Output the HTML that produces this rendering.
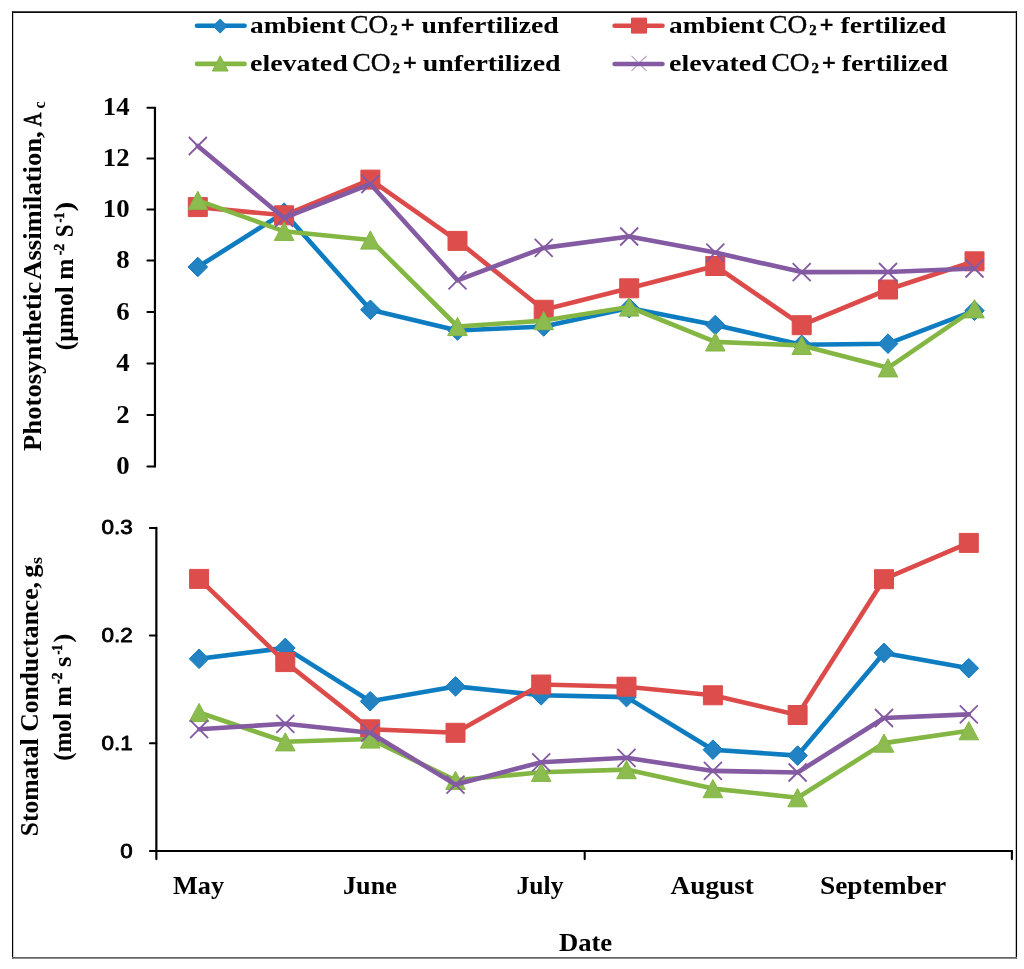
<!DOCTYPE html>
<html lang="en"><head><meta charset="utf-8"><title>Photosynthetic assimilation and stomatal conductance</title>
<style>html,body{margin:0;padding:0;background:#fff}svg{display:block}text{fill:#000}</style></head><body>
<svg role="img" aria-label="Line charts of photosynthetic assimilation and stomatal conductance by date" width="1024" height="969" viewBox="0 0 1024 969">
<rect x="0" y="0" width="1024" height="969" fill="#fff"/>
<defs><filter id="soft" x="0" y="0" width="1024" height="969" filterUnits="userSpaceOnUse"><feGaussianBlur stdDeviation="0.45"/></filter></defs>
<g filter="url(#soft)">
<line x1="12.6" y1="11.3" x2="12.6" y2="958.4" stroke="#000" stroke-width="1.2"/>
<line x1="1016.4" y1="11.3" x2="1016.4" y2="958.4" stroke="#000" stroke-width="1.3"/>
<line x1="12" y1="12.05" x2="1017" y2="12.05" stroke="#111" stroke-width="1.7"/>
<line x1="12" y1="957.8" x2="1017" y2="957.8" stroke="#666" stroke-width="1.7"/>
<line x1="197" y1="25.7" x2="244.6" y2="25.7" stroke="#0a7cc0" stroke-width="4.6" stroke-linecap="round"/>
<path d="M220.2 19.1L227.2 26.1L220.2 33.1L213.2 26.1Z" fill="#2482c2" stroke="#0a7cc0" stroke-width="1" stroke-linejoin="round"/>
<line x1="197" y1="63.9" x2="244.6" y2="63.9" stroke="#83b642" stroke-width="4.6" stroke-linecap="round"/>
<path d="M220.2 55.8L228.1 71.0L212.3 71.0Z" fill="#8cbc50" stroke="#83b642" stroke-width="1" stroke-linejoin="round"/>
<line x1="614.6" y1="25.75" x2="662.5" y2="25.75" stroke="#dc4c4a" stroke-width="4.6" stroke-linecap="round"/>
<rect x="631.5" y="18.1" width="15.0" height="15.0" fill="#dd4e4c" stroke="#dc4c4a" stroke-width="1" stroke-linejoin="round"/>
<line x1="614.6" y1="64.0" x2="662.5" y2="64.0" stroke="#845aa2" stroke-width="4.6" stroke-linecap="round"/>
<path d="M631.5 55.8L646.5 70.8M631.5 70.8L646.5 55.8" fill="none" stroke="#845aa2" stroke-width="1.1" stroke-opacity="0.6"/>
<text x="250.0" y="32.5" font-family="'Liberation Serif', 'DejaVu Serif', serif" font-size="24.0" font-weight="bold" text-anchor="start" textLength="95.6" lengthAdjust="spacingAndGlyphs">ambient</text>
<text x="350.2" y="32.5" font-family="'Liberation Serif', 'DejaVu Serif', serif" font-size="24.5" font-weight="normal" text-anchor="start" textLength="38.0" lengthAdjust="spacingAndGlyphs" stroke="#000" stroke-width="0.35">CO</text>
<text x="390.2" y="34.7" font-family="'Liberation Serif', 'DejaVu Serif', serif" font-size="14.5" font-weight="bold" text-anchor="start" textLength="7.4" lengthAdjust="spacingAndGlyphs" stroke="#000" stroke-width="0.4">2</text>
<text x="407.5" y="31.8" font-family="'Liberation Serif', 'DejaVu Serif', serif" font-size="24" font-weight="bold" text-anchor="middle" stroke="#000" stroke-width="0.6">+</text>
<text x="421.5" y="32.5" font-family="'Liberation Serif', 'DejaVu Serif', serif" font-size="24.0" font-weight="bold" text-anchor="start" textLength="137.3" lengthAdjust="spacingAndGlyphs">unfertilized</text>
<text x="250.0" y="70.9" font-family="'Liberation Serif', 'DejaVu Serif', serif" font-size="24.0" font-weight="bold" text-anchor="start" textLength="97.7" lengthAdjust="spacingAndGlyphs">elevated</text>
<text x="352.5" y="70.9" font-family="'Liberation Serif', 'DejaVu Serif', serif" font-size="24.5" font-weight="normal" text-anchor="start" textLength="38.0" lengthAdjust="spacingAndGlyphs" stroke="#000" stroke-width="0.35">CO</text>
<text x="392.5" y="73.10000000000001" font-family="'Liberation Serif', 'DejaVu Serif', serif" font-size="14.5" font-weight="bold" text-anchor="start" textLength="7.4" lengthAdjust="spacingAndGlyphs" stroke="#000" stroke-width="0.4">2</text>
<text x="409.8" y="70.2" font-family="'Liberation Serif', 'DejaVu Serif', serif" font-size="24" font-weight="bold" text-anchor="middle" stroke="#000" stroke-width="0.6">+</text>
<text x="422.8" y="70.9" font-family="'Liberation Serif', 'DejaVu Serif', serif" font-size="24.0" font-weight="bold" text-anchor="start" textLength="137.8" lengthAdjust="spacingAndGlyphs">unfertilized</text>
<text x="669.0" y="32.5" font-family="'Liberation Serif', 'DejaVu Serif', serif" font-size="24.0" font-weight="bold" text-anchor="start" textLength="95.6" lengthAdjust="spacingAndGlyphs">ambient</text>
<text x="769.2" y="32.5" font-family="'Liberation Serif', 'DejaVu Serif', serif" font-size="24.5" font-weight="normal" text-anchor="start" textLength="38.0" lengthAdjust="spacingAndGlyphs" stroke="#000" stroke-width="0.35">CO</text>
<text x="809.2" y="34.7" font-family="'Liberation Serif', 'DejaVu Serif', serif" font-size="14.5" font-weight="bold" text-anchor="start" textLength="7.4" lengthAdjust="spacingAndGlyphs" stroke="#000" stroke-width="0.4">2</text>
<text x="826.5" y="31.8" font-family="'Liberation Serif', 'DejaVu Serif', serif" font-size="24" font-weight="bold" text-anchor="middle" stroke="#000" stroke-width="0.6">+</text>
<text x="840.5" y="32.5" font-family="'Liberation Serif', 'DejaVu Serif', serif" font-size="24.0" font-weight="bold" text-anchor="start" textLength="105.7" lengthAdjust="spacingAndGlyphs">fertilized</text>
<text x="669.0" y="70.9" font-family="'Liberation Serif', 'DejaVu Serif', serif" font-size="24.0" font-weight="bold" text-anchor="start" textLength="97.7" lengthAdjust="spacingAndGlyphs">elevated</text>
<text x="771.5" y="70.9" font-family="'Liberation Serif', 'DejaVu Serif', serif" font-size="24.5" font-weight="normal" text-anchor="start" textLength="38.0" lengthAdjust="spacingAndGlyphs" stroke="#000" stroke-width="0.35">CO</text>
<text x="811.5" y="73.10000000000001" font-family="'Liberation Serif', 'DejaVu Serif', serif" font-size="14.5" font-weight="bold" text-anchor="start" textLength="7.4" lengthAdjust="spacingAndGlyphs" stroke="#000" stroke-width="0.4">2</text>
<text x="828.8" y="70.2" font-family="'Liberation Serif', 'DejaVu Serif', serif" font-size="24" font-weight="bold" text-anchor="middle" stroke="#000" stroke-width="0.6">+</text>
<text x="841.8" y="70.9" font-family="'Liberation Serif', 'DejaVu Serif', serif" font-size="24.0" font-weight="bold" text-anchor="start" textLength="106.2" lengthAdjust="spacingAndGlyphs">fertilized</text>
<line x1="154.95" y1="107.75" x2="154.95" y2="466.5" stroke="#000" stroke-width="2.2" stroke-linecap="round"/>
<line x1="147.4" y1="466.5" x2="154.95" y2="466.5" stroke="#000" stroke-width="2.0" stroke-linecap="round"/>
<text x="129.6" y="474.0" font-family="'Liberation Serif', 'DejaVu Serif', serif" font-size="25" font-weight="bold" text-anchor="end" textLength="13.4" lengthAdjust="spacingAndGlyphs">0</text>
<line x1="147.4" y1="415.0" x2="154.95" y2="415.0" stroke="#000" stroke-width="2.0" stroke-linecap="round"/>
<text x="129.6" y="422.5" font-family="'Liberation Serif', 'DejaVu Serif', serif" font-size="25" font-weight="bold" text-anchor="end" textLength="13.4" lengthAdjust="spacingAndGlyphs">2</text>
<line x1="147.4" y1="363.5" x2="154.95" y2="363.5" stroke="#000" stroke-width="2.0" stroke-linecap="round"/>
<text x="129.6" y="371.0" font-family="'Liberation Serif', 'DejaVu Serif', serif" font-size="25" font-weight="bold" text-anchor="end" textLength="13.4" lengthAdjust="spacingAndGlyphs">4</text>
<line x1="147.4" y1="312.1" x2="154.95" y2="312.1" stroke="#000" stroke-width="2.0" stroke-linecap="round"/>
<text x="129.6" y="319.6" font-family="'Liberation Serif', 'DejaVu Serif', serif" font-size="25" font-weight="bold" text-anchor="end" textLength="13.4" lengthAdjust="spacingAndGlyphs">6</text>
<line x1="147.4" y1="260.5" x2="154.95" y2="260.5" stroke="#000" stroke-width="2.0" stroke-linecap="round"/>
<text x="129.6" y="268.0" font-family="'Liberation Serif', 'DejaVu Serif', serif" font-size="25" font-weight="bold" text-anchor="end" textLength="13.4" lengthAdjust="spacingAndGlyphs">8</text>
<line x1="147.4" y1="209.6" x2="154.95" y2="209.6" stroke="#000" stroke-width="2.0" stroke-linecap="round"/>
<text x="129.6" y="217.1" font-family="'Liberation Serif', 'DejaVu Serif', serif" font-size="25" font-weight="bold" text-anchor="end" textLength="26.8" lengthAdjust="spacingAndGlyphs">10</text>
<line x1="147.4" y1="158.6" x2="154.95" y2="158.6" stroke="#000" stroke-width="2.0" stroke-linecap="round"/>
<text x="129.6" y="166.1" font-family="'Liberation Serif', 'DejaVu Serif', serif" font-size="25" font-weight="bold" text-anchor="end" textLength="26.8" lengthAdjust="spacingAndGlyphs">12</text>
<line x1="147.4" y1="107.8" x2="154.95" y2="107.8" stroke="#000" stroke-width="2.0" stroke-linecap="round"/>
<text x="129.6" y="115.2" font-family="'Liberation Serif', 'DejaVu Serif', serif" font-size="25" font-weight="bold" text-anchor="end" textLength="26.8" lengthAdjust="spacingAndGlyphs">14</text>
<polyline points="197.8,267.0 284.1,212.6 370.4,309.8 457.5,330.5 543.7,326.5 629.2,308.1 715.3,325.0 801.7,344.8 888.0,343.7 974.5,310.7" fill="none" stroke="#0a7cc0" stroke-width="4.6" stroke-linejoin="round" stroke-linecap="round"/>
<path d="M197.8 257.2L207.6 267.0L197.8 276.8L188.0 267.0Z" fill="#2482c2" stroke="#0a7cc0" stroke-width="1" stroke-linejoin="round"/>
<path d="M284.1 202.8L293.9 212.6L284.1 222.4L274.3 212.6Z" fill="#2482c2" stroke="#0a7cc0" stroke-width="1" stroke-linejoin="round"/>
<path d="M370.4 300.0L380.2 309.8L370.4 319.6L360.6 309.8Z" fill="#2482c2" stroke="#0a7cc0" stroke-width="1" stroke-linejoin="round"/>
<path d="M457.5 320.7L467.3 330.5L457.5 340.3L447.7 330.5Z" fill="#2482c2" stroke="#0a7cc0" stroke-width="1" stroke-linejoin="round"/>
<path d="M543.7 316.7L553.5 326.5L543.7 336.3L533.9 326.5Z" fill="#2482c2" stroke="#0a7cc0" stroke-width="1" stroke-linejoin="round"/>
<path d="M629.2 298.3L639.0 308.1L629.2 317.9L619.4 308.1Z" fill="#2482c2" stroke="#0a7cc0" stroke-width="1" stroke-linejoin="round"/>
<path d="M715.3 315.2L725.1 325.0L715.3 334.8L705.5 325.0Z" fill="#2482c2" stroke="#0a7cc0" stroke-width="1" stroke-linejoin="round"/>
<path d="M801.7 335.0L811.5 344.8L801.7 354.6L791.9 344.8Z" fill="#2482c2" stroke="#0a7cc0" stroke-width="1" stroke-linejoin="round"/>
<path d="M888.0 333.9L897.8 343.7L888.0 353.5L878.2 343.7Z" fill="#2482c2" stroke="#0a7cc0" stroke-width="1" stroke-linejoin="round"/>
<path d="M974.5 300.9L984.3 310.7L974.5 320.5L964.7 310.7Z" fill="#2482c2" stroke="#0a7cc0" stroke-width="1" stroke-linejoin="round"/>
<polyline points="197.8,207.1 284.1,215.3 370.4,179.6 457.5,240.9 543.7,309.8 629.2,288.3 715.3,266.0 801.7,325.2 888.0,289.5 974.5,261.3" fill="none" stroke="#dc4c4a" stroke-width="4.6" stroke-linejoin="round" stroke-linecap="round"/>
<rect x="188.3" y="197.6" width="19.0" height="19.0" fill="#dd4e4c" stroke="#dc4c4a" stroke-width="1" stroke-linejoin="round"/>
<rect x="274.6" y="205.8" width="19.0" height="19.0" fill="#dd4e4c" stroke="#dc4c4a" stroke-width="1" stroke-linejoin="round"/>
<rect x="360.9" y="170.1" width="19.0" height="19.0" fill="#dd4e4c" stroke="#dc4c4a" stroke-width="1" stroke-linejoin="round"/>
<rect x="448.0" y="231.4" width="19.0" height="19.0" fill="#dd4e4c" stroke="#dc4c4a" stroke-width="1" stroke-linejoin="round"/>
<rect x="534.2" y="300.3" width="19.0" height="19.0" fill="#dd4e4c" stroke="#dc4c4a" stroke-width="1" stroke-linejoin="round"/>
<rect x="619.7" y="278.8" width="19.0" height="19.0" fill="#dd4e4c" stroke="#dc4c4a" stroke-width="1" stroke-linejoin="round"/>
<rect x="705.8" y="256.5" width="19.0" height="19.0" fill="#dd4e4c" stroke="#dc4c4a" stroke-width="1" stroke-linejoin="round"/>
<rect x="792.2" y="315.7" width="19.0" height="19.0" fill="#dd4e4c" stroke="#dc4c4a" stroke-width="1" stroke-linejoin="round"/>
<rect x="878.5" y="280.0" width="19.0" height="19.0" fill="#dd4e4c" stroke="#dc4c4a" stroke-width="1" stroke-linejoin="round"/>
<rect x="965.0" y="251.8" width="19.0" height="19.0" fill="#dd4e4c" stroke="#dc4c4a" stroke-width="1" stroke-linejoin="round"/>
<polyline points="197.8,200.3 284.1,231.3 370.4,240.0 457.5,326.5 543.7,320.6 629.2,307.0 715.3,341.9 801.7,345.4 888.0,367.8 974.5,308.8" fill="none" stroke="#83b642" stroke-width="4.6" stroke-linejoin="round" stroke-linecap="round"/>
<path d="M197.8 191.2L207.6 209.4L188.0 209.4Z" fill="#8cbc50" stroke="#83b642" stroke-width="1" stroke-linejoin="round"/>
<path d="M284.1 222.2L293.9 240.4L274.3 240.4Z" fill="#8cbc50" stroke="#83b642" stroke-width="1" stroke-linejoin="round"/>
<path d="M370.4 230.9L380.2 249.1L360.6 249.1Z" fill="#8cbc50" stroke="#83b642" stroke-width="1" stroke-linejoin="round"/>
<path d="M457.5 317.4L467.3 335.6L447.7 335.6Z" fill="#8cbc50" stroke="#83b642" stroke-width="1" stroke-linejoin="round"/>
<path d="M543.7 311.5L553.5 329.7L533.9 329.7Z" fill="#8cbc50" stroke="#83b642" stroke-width="1" stroke-linejoin="round"/>
<path d="M629.2 297.9L639.0 316.1L619.4 316.1Z" fill="#8cbc50" stroke="#83b642" stroke-width="1" stroke-linejoin="round"/>
<path d="M715.3 332.8L725.1 351.0L705.5 351.0Z" fill="#8cbc50" stroke="#83b642" stroke-width="1" stroke-linejoin="round"/>
<path d="M801.7 336.3L811.5 354.5L791.9 354.5Z" fill="#8cbc50" stroke="#83b642" stroke-width="1" stroke-linejoin="round"/>
<path d="M888.0 358.7L897.8 376.9L878.2 376.9Z" fill="#8cbc50" stroke="#83b642" stroke-width="1" stroke-linejoin="round"/>
<path d="M974.5 299.7L984.3 317.9L964.7 317.9Z" fill="#8cbc50" stroke="#83b642" stroke-width="1" stroke-linejoin="round"/>
<polyline points="197.8,146.0 284.1,217.9 370.4,184.0 457.5,280.3 543.7,247.9 629.2,236.5 715.3,252.6 801.7,272.1 888.0,272.0 974.5,268.5" fill="none" stroke="#845aa2" stroke-width="4.6" stroke-linejoin="round" stroke-linecap="round"/>
<path d="M188.8 137.0L206.8 155.0M188.8 155.0L206.8 137.0" fill="none" stroke="#845aa2" stroke-width="1.8" stroke-opacity="1"/>
<path d="M275.1 208.9L293.1 226.9M275.1 226.9L293.1 208.9" fill="none" stroke="#845aa2" stroke-width="1.8" stroke-opacity="1"/>
<path d="M361.4 175.0L379.4 193.0M361.4 193.0L379.4 175.0" fill="none" stroke="#845aa2" stroke-width="1.8" stroke-opacity="1"/>
<path d="M448.5 271.3L466.5 289.3M448.5 289.3L466.5 271.3" fill="none" stroke="#845aa2" stroke-width="1.8" stroke-opacity="1"/>
<path d="M534.7 238.9L552.7 256.9M534.7 256.9L552.7 238.9" fill="none" stroke="#845aa2" stroke-width="1.8" stroke-opacity="1"/>
<path d="M620.2 227.5L638.2 245.5M620.2 245.5L638.2 227.5" fill="none" stroke="#845aa2" stroke-width="1.8" stroke-opacity="1"/>
<path d="M706.3 243.6L724.3 261.6M706.3 261.6L724.3 243.6" fill="none" stroke="#845aa2" stroke-width="1.8" stroke-opacity="1"/>
<path d="M792.7 263.1L810.7 281.1M792.7 281.1L810.7 263.1" fill="none" stroke="#845aa2" stroke-width="1.8" stroke-opacity="1"/>
<path d="M879.0 263.0L897.0 281.0M879.0 281.0L897.0 263.0" fill="none" stroke="#845aa2" stroke-width="1.8" stroke-opacity="1"/>
<path d="M965.5 259.5L983.5 277.5M965.5 277.5L983.5 259.5" fill="none" stroke="#845aa2" stroke-width="1.8" stroke-opacity="1"/>
<g transform="translate(40.8 450.6) rotate(-90)">
<text x="-0.4" y="0" font-family="'Liberation Serif', 'DejaVu Serif', serif" font-size="26.2" font-weight="bold" text-anchor="start" textLength="169.2" lengthAdjust="spacingAndGlyphs">Photosynthetic</text>
<text x="170.9" y="0" font-family="'Liberation Serif', 'DejaVu Serif', serif" font-size="26.2" font-weight="bold" text-anchor="start" textLength="148.4" lengthAdjust="spacingAndGlyphs">Assimilation,</text>
<text x="324.1" y="0" font-family="'Liberation Serif', 'DejaVu Serif', serif" font-size="26.2" font-weight="normal" text-anchor="start" textLength="13.8" lengthAdjust="spacingAndGlyphs" stroke="#000" stroke-width="0.8">A</text>
<text x="342.2" y="4.4" font-family="'Liberation Serif', 'DejaVu Serif', serif" font-size="17" font-weight="bold" text-anchor="start" textLength="7.1" lengthAdjust="spacingAndGlyphs">c</text>
</g>
<g transform="translate(73.4 349.9) rotate(-90)">
<text x="-0.4" y="0" font-family="'Liberation Serif', 'DejaVu Serif', serif" font-size="26.2" font-weight="bold" text-anchor="start" textLength="91.7" lengthAdjust="spacingAndGlyphs">(µmol m</text>
<text x="94.6" y="-9.6" font-family="'Liberation Serif', 'DejaVu Serif', serif" font-size="15" font-weight="bold" text-anchor="start" textLength="11.6" lengthAdjust="spacingAndGlyphs" stroke="#000" stroke-width="0.45">-2</text>
<text x="112.7" y="0" font-family="'Liberation Serif', 'DejaVu Serif', serif" font-size="26.2" font-weight="bold" text-anchor="start" textLength="12.8" lengthAdjust="spacingAndGlyphs">S</text>
<text x="127.5" y="-9.6" font-family="'Liberation Serif', 'DejaVu Serif', serif" font-size="15" font-weight="bold" text-anchor="start" textLength="9.9" lengthAdjust="spacingAndGlyphs" stroke="#000" stroke-width="0.45">-1</text>
<text x="138.3" y="0" font-family="'Liberation Serif', 'DejaVu Serif', serif" font-size="26.2" font-weight="bold" text-anchor="start" textLength="9.9" lengthAdjust="spacingAndGlyphs">)</text>
</g>
<line x1="156.35" y1="527.9" x2="156.35" y2="859.1" stroke="#000" stroke-width="2.2" stroke-linecap="round"/>
<line x1="149.9" y1="850.95" x2="1011.9" y2="850.95" stroke="#000" stroke-width="2.1" stroke-linecap="round"/>
<line x1="584.7" y1="850.95" x2="584.7" y2="859.1" stroke="#000" stroke-width="2.1" stroke-linecap="round"/>
<line x1="1011.9" y1="850.95" x2="1011.9" y2="859.1" stroke="#000" stroke-width="2.1" stroke-linecap="round"/>
<text x="132.7" y="857.5" font-family="'Liberation Sans', 'DejaVu Sans', sans-serif" font-size="20.0" font-weight="normal" text-anchor="end" textLength="12.4" lengthAdjust="spacingAndGlyphs" stroke="#000" stroke-width="0.8" stroke-linejoin="round">0</text>
<line x1="149.9" y1="743.3" x2="156.35" y2="743.3" stroke="#000" stroke-width="2.0" stroke-linecap="round"/>
<text x="132.7" y="749.8" font-family="'Liberation Sans', 'DejaVu Sans', sans-serif" font-size="20.0" font-weight="normal" text-anchor="end" textLength="31.2" lengthAdjust="spacingAndGlyphs" stroke="#000" stroke-width="0.8" stroke-linejoin="round">0.1</text>
<line x1="149.9" y1="635.6" x2="156.35" y2="635.6" stroke="#000" stroke-width="2.0" stroke-linecap="round"/>
<text x="132.7" y="642.1" font-family="'Liberation Sans', 'DejaVu Sans', sans-serif" font-size="20.0" font-weight="normal" text-anchor="end" textLength="31.2" lengthAdjust="spacingAndGlyphs" stroke="#000" stroke-width="0.8" stroke-linejoin="round">0.2</text>
<line x1="149.9" y1="527.9" x2="156.35" y2="527.9" stroke="#000" stroke-width="2.0" stroke-linecap="round"/>
<text x="132.7" y="534.4" font-family="'Liberation Sans', 'DejaVu Sans', sans-serif" font-size="20.0" font-weight="normal" text-anchor="end" textLength="31.2" lengthAdjust="spacingAndGlyphs" stroke="#000" stroke-width="0.8" stroke-linejoin="round">0.3</text>
<polyline points="199.1,658.8 285.3,647.9 370.2,701.2 455.5,686.4 541.2,695.3 626.5,697.1 712.9,749.7 797.6,755.6 884.0,652.9 968.8,668.2" fill="none" stroke="#0a7cc0" stroke-width="4.6" stroke-linejoin="round" stroke-linecap="round"/>
<path d="M199.1 649.0L208.9 658.8L199.1 668.6L189.3 658.8Z" fill="#2482c2" stroke="#0a7cc0" stroke-width="1" stroke-linejoin="round"/>
<path d="M285.3 638.1L295.1 647.9L285.3 657.7L275.5 647.9Z" fill="#2482c2" stroke="#0a7cc0" stroke-width="1" stroke-linejoin="round"/>
<path d="M370.2 691.4L380.0 701.2L370.2 711.0L360.4 701.2Z" fill="#2482c2" stroke="#0a7cc0" stroke-width="1" stroke-linejoin="round"/>
<path d="M455.5 676.6L465.3 686.4L455.5 696.2L445.7 686.4Z" fill="#2482c2" stroke="#0a7cc0" stroke-width="1" stroke-linejoin="round"/>
<path d="M541.2 685.5L551.0 695.3L541.2 705.1L531.4 695.3Z" fill="#2482c2" stroke="#0a7cc0" stroke-width="1" stroke-linejoin="round"/>
<path d="M626.5 687.3L636.3 697.1L626.5 706.9L616.7 697.1Z" fill="#2482c2" stroke="#0a7cc0" stroke-width="1" stroke-linejoin="round"/>
<path d="M712.9 739.9L722.7 749.7L712.9 759.5L703.1 749.7Z" fill="#2482c2" stroke="#0a7cc0" stroke-width="1" stroke-linejoin="round"/>
<path d="M797.6 745.8L807.4 755.6L797.6 765.4L787.8 755.6Z" fill="#2482c2" stroke="#0a7cc0" stroke-width="1" stroke-linejoin="round"/>
<path d="M884.0 643.1L893.8 652.9L884.0 662.7L874.2 652.9Z" fill="#2482c2" stroke="#0a7cc0" stroke-width="1" stroke-linejoin="round"/>
<path d="M968.8 658.4L978.6 668.2L968.8 678.0L959.0 668.2Z" fill="#2482c2" stroke="#0a7cc0" stroke-width="1" stroke-linejoin="round"/>
<polyline points="199.1,578.9 285.3,662.1 370.2,729.3 455.5,732.8 541.2,684.5 626.5,686.7 712.9,695.3 797.6,715.0 884.0,579.2 968.8,542.9" fill="none" stroke="#dc4c4a" stroke-width="4.6" stroke-linejoin="round" stroke-linecap="round"/>
<rect x="189.6" y="569.4" width="19.0" height="19.0" fill="#dd4e4c" stroke="#dc4c4a" stroke-width="1" stroke-linejoin="round"/>
<rect x="275.8" y="652.6" width="19.0" height="19.0" fill="#dd4e4c" stroke="#dc4c4a" stroke-width="1" stroke-linejoin="round"/>
<rect x="360.7" y="719.8" width="19.0" height="19.0" fill="#dd4e4c" stroke="#dc4c4a" stroke-width="1" stroke-linejoin="round"/>
<rect x="446.0" y="723.3" width="19.0" height="19.0" fill="#dd4e4c" stroke="#dc4c4a" stroke-width="1" stroke-linejoin="round"/>
<rect x="531.7" y="675.0" width="19.0" height="19.0" fill="#dd4e4c" stroke="#dc4c4a" stroke-width="1" stroke-linejoin="round"/>
<rect x="617.0" y="677.2" width="19.0" height="19.0" fill="#dd4e4c" stroke="#dc4c4a" stroke-width="1" stroke-linejoin="round"/>
<rect x="703.4" y="685.8" width="19.0" height="19.0" fill="#dd4e4c" stroke="#dc4c4a" stroke-width="1" stroke-linejoin="round"/>
<rect x="788.1" y="705.5" width="19.0" height="19.0" fill="#dd4e4c" stroke="#dc4c4a" stroke-width="1" stroke-linejoin="round"/>
<rect x="874.5" y="569.7" width="19.0" height="19.0" fill="#dd4e4c" stroke="#dc4c4a" stroke-width="1" stroke-linejoin="round"/>
<rect x="959.3" y="533.4" width="19.0" height="19.0" fill="#dd4e4c" stroke="#dc4c4a" stroke-width="1" stroke-linejoin="round"/>
<polyline points="199.1,712.5 285.3,741.8 370.2,739.0 455.5,780.3 541.2,772.3 626.5,769.6 712.9,788.6 797.6,797.7 884.0,743.1 968.8,730.7" fill="none" stroke="#83b642" stroke-width="4.6" stroke-linejoin="round" stroke-linecap="round"/>
<path d="M199.1 703.4L208.9 721.6L189.3 721.6Z" fill="#8cbc50" stroke="#83b642" stroke-width="1" stroke-linejoin="round"/>
<path d="M285.3 732.7L295.1 750.9L275.5 750.9Z" fill="#8cbc50" stroke="#83b642" stroke-width="1" stroke-linejoin="round"/>
<path d="M370.2 729.9L380.0 748.1L360.4 748.1Z" fill="#8cbc50" stroke="#83b642" stroke-width="1" stroke-linejoin="round"/>
<path d="M455.5 771.2L465.3 789.4L445.7 789.4Z" fill="#8cbc50" stroke="#83b642" stroke-width="1" stroke-linejoin="round"/>
<path d="M541.2 763.2L551.0 781.4L531.4 781.4Z" fill="#8cbc50" stroke="#83b642" stroke-width="1" stroke-linejoin="round"/>
<path d="M626.5 760.5L636.3 778.7L616.7 778.7Z" fill="#8cbc50" stroke="#83b642" stroke-width="1" stroke-linejoin="round"/>
<path d="M712.9 779.5L722.7 797.7L703.1 797.7Z" fill="#8cbc50" stroke="#83b642" stroke-width="1" stroke-linejoin="round"/>
<path d="M797.6 788.6L807.4 806.8L787.8 806.8Z" fill="#8cbc50" stroke="#83b642" stroke-width="1" stroke-linejoin="round"/>
<path d="M884.0 734.0L893.8 752.2L874.2 752.2Z" fill="#8cbc50" stroke="#83b642" stroke-width="1" stroke-linejoin="round"/>
<path d="M968.8 721.6L978.6 739.8L959.0 739.8Z" fill="#8cbc50" stroke="#83b642" stroke-width="1" stroke-linejoin="round"/>
<polyline points="199.1,729.2 285.3,723.8 370.2,732.7 455.5,784.6 541.2,762.3 626.5,757.8 712.9,770.9 797.6,772.5 884.0,718.0 968.8,714.4" fill="none" stroke="#845aa2" stroke-width="4.6" stroke-linejoin="round" stroke-linecap="round"/>
<path d="M190.1 720.2L208.1 738.2M190.1 738.2L208.1 720.2" fill="none" stroke="#845aa2" stroke-width="1.8" stroke-opacity="1"/>
<path d="M276.3 714.8L294.3 732.8M276.3 732.8L294.3 714.8" fill="none" stroke="#845aa2" stroke-width="1.8" stroke-opacity="1"/>
<path d="M361.2 723.7L379.2 741.7M361.2 741.7L379.2 723.7" fill="none" stroke="#845aa2" stroke-width="1.8" stroke-opacity="1"/>
<path d="M446.5 775.6L464.5 793.6M446.5 793.6L464.5 775.6" fill="none" stroke="#845aa2" stroke-width="1.8" stroke-opacity="1"/>
<path d="M532.2 753.3L550.2 771.3M532.2 771.3L550.2 753.3" fill="none" stroke="#845aa2" stroke-width="1.8" stroke-opacity="1"/>
<path d="M617.5 748.8L635.5 766.8M617.5 766.8L635.5 748.8" fill="none" stroke="#845aa2" stroke-width="1.8" stroke-opacity="1"/>
<path d="M703.9 761.9L721.9 779.9M703.9 779.9L721.9 761.9" fill="none" stroke="#845aa2" stroke-width="1.8" stroke-opacity="1"/>
<path d="M788.6 763.5L806.6 781.5M788.6 781.5L806.6 763.5" fill="none" stroke="#845aa2" stroke-width="1.8" stroke-opacity="1"/>
<path d="M875.0 709.0L893.0 727.0M875.0 727.0L893.0 709.0" fill="none" stroke="#845aa2" stroke-width="1.8" stroke-opacity="1"/>
<path d="M959.8 705.4L977.8 723.4M959.8 723.4L977.8 705.4" fill="none" stroke="#845aa2" stroke-width="1.8" stroke-opacity="1"/>
<g transform="translate(38.2 835.9) rotate(-90)">
<text x="-0.4" y="0" font-family="'Liberation Serif', 'DejaVu Serif', serif" font-size="26.2" font-weight="bold" text-anchor="start" textLength="97.9" lengthAdjust="spacingAndGlyphs">Stomatal</text>
<text x="104.1" y="0" font-family="'Liberation Serif', 'DejaVu Serif', serif" font-size="26.2" font-weight="bold" text-anchor="start" textLength="149.7" lengthAdjust="spacingAndGlyphs">Conductance,</text>
<text x="258.2" y="0" font-family="'Liberation Serif', 'DejaVu Serif', serif" font-size="26.2" font-weight="bold" text-anchor="start" textLength="13.2" lengthAdjust="spacingAndGlyphs">g</text>
<text x="271.8" y="4.1" font-family="'Liberation Serif', 'DejaVu Serif', serif" font-size="16" font-weight="bold" text-anchor="start" textLength="7.0" lengthAdjust="spacingAndGlyphs">s</text>
</g>
<g transform="translate(70.9 760.4) rotate(-90)">
<text x="-0.4" y="0" font-family="'Liberation Serif', 'DejaVu Serif', serif" font-size="26.2" font-weight="bold" text-anchor="start" textLength="74.7" lengthAdjust="spacingAndGlyphs">(mol m</text>
<text x="76.3" y="-9.4" font-family="'Liberation Serif', 'DejaVu Serif', serif" font-size="15" font-weight="bold" text-anchor="start" textLength="11.6" lengthAdjust="spacingAndGlyphs" stroke="#000" stroke-width="0.45">-2</text>
<text x="93.3" y="0" font-family="'Liberation Serif', 'DejaVu Serif', serif" font-size="26.2" font-weight="bold" text-anchor="start" textLength="10.5" lengthAdjust="spacingAndGlyphs">s</text>
<text x="105.8" y="-9.4" font-family="'Liberation Serif', 'DejaVu Serif', serif" font-size="15" font-weight="bold" text-anchor="start" textLength="9.9" lengthAdjust="spacingAndGlyphs" stroke="#000" stroke-width="0.45">-1</text>
<text x="117.7" y="0" font-family="'Liberation Serif', 'DejaVu Serif', serif" font-size="26.2" font-weight="bold" text-anchor="start" textLength="9.2" lengthAdjust="spacingAndGlyphs">)</text>
</g>
<text x="172.9" y="893.8" font-family="'Liberation Serif', 'DejaVu Serif', serif" font-size="26" font-weight="bold" text-anchor="start" textLength="51.2" lengthAdjust="spacingAndGlyphs">May</text>
<text x="343" y="893.8" font-family="'Liberation Serif', 'DejaVu Serif', serif" font-size="26" font-weight="bold" text-anchor="start" textLength="53.8" lengthAdjust="spacingAndGlyphs">June</text>
<text x="516.5" y="893.8" font-family="'Liberation Serif', 'DejaVu Serif', serif" font-size="26" font-weight="bold" text-anchor="start" textLength="47" lengthAdjust="spacingAndGlyphs">July</text>
<text x="670.6" y="893.8" font-family="'Liberation Serif', 'DejaVu Serif', serif" font-size="26" font-weight="bold" text-anchor="start" textLength="83.3" lengthAdjust="spacingAndGlyphs">August</text>
<text x="819.9" y="893.8" font-family="'Liberation Serif', 'DejaVu Serif', serif" font-size="26" font-weight="bold" text-anchor="start" textLength="126.4" lengthAdjust="spacingAndGlyphs">September</text>
<text x="558.9" y="950.5" font-family="'Liberation Serif', 'DejaVu Serif', serif" font-size="26" font-weight="bold" text-anchor="start" textLength="53.3" lengthAdjust="spacingAndGlyphs">Date</text>
</g>
</svg></body></html>
